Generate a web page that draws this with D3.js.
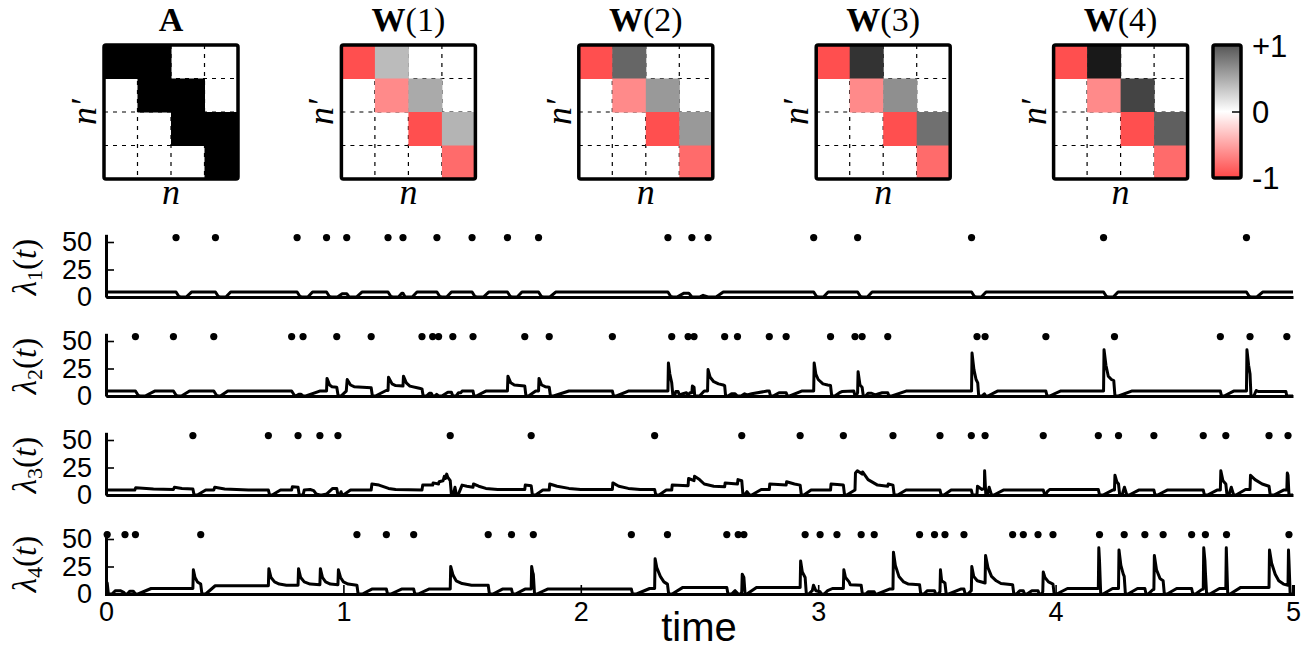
<!DOCTYPE html>
<html>
<head>
<meta charset="utf-8">
<script src="https://cdn.jsdelivr.net/npm/d3@7"></script>
<style>
body { margin: 0; background: #fff; }
.tick text { font-family: "Liberation Sans", Arial, sans-serif; font-size: 27px; }
.math { font-family: "Liberation Serif", "DejaVu Serif", serif; }
.sans { font-family: "Liberation Sans", Arial, sans-serif; }
</style>
</head>
<body>
<svg id="fig" width="1304" height="651"></svg>
<script>
// ---- data ----
const timeTicks = [0, 1, 2, 3, 4, 5];
const rateTicks = [0, 25, 50];
const cbarTicks = [[1, "+1"], [0, "0"], [-1, "-1"]];

const matA = [[1, 1, 0, 0], [0, 1, 1, 0], [0, 0, 1, 1], [0, 0, 0, 1]];
const matW1 = [[-0.95, 0.4, 0, 0], [0, -0.63, 0.5, 0], [0, 0, -0.95, 0.44], [0, 0, 0, -0.8]];
const matW2 = [[-0.95, 0.9, 0, 0], [0, -0.63, 0.6, 0], [0, 0, -0.95, 0.6], [0, 0, 0, -0.8]];
const matW3 = [[-0.95, 1.2, 0, 0], [0, -0.63, 0.66, 0], [0, 0, -0.95, 0.84], [0, 0, 0, -0.8]];
const matW4 = [[-0.95, 1.35, 0, 0], [0, -0.63, 1.1, 0], [0, 0, -0.95, 0.94], [0, 0, 0, -0.8]];

const spikes1 = [0.295, 0.461, 0.805, 0.929, 1.014, 1.188, 1.251, 1.394, 1.542, 1.691, 1.822,
  2.367, 2.468, 2.536, 2.981, 3.166, 3.646, 4.202, 4.804];
const spikes2 = [0.124, 0.284, 0.454, 0.782, 0.830, 0.972, 1.117, 1.331, 1.376, 1.401, 1.461,
  1.546, 1.764, 1.867, 2.133, 2.383, 2.452, 2.477, 2.606, 2.660, 2.794, 2.865, 3.052, 3.155,
  3.185, 3.293, 3.669, 3.703, 3.959, 4.248, 4.694, 4.819, 4.974];
const spikes3 = [0.366, 0.684, 0.809, 0.901, 0.977, 1.450, 1.791, 2.311, 2.678, 2.924, 3.106,
  3.315, 3.513, 3.645, 3.703, 3.948, 4.180, 4.265, 4.414, 4.622, 4.717, 4.899, 4.979];
const spikes4 = [0.005, 0.080, 0.124, 0.399, 1.057, 1.181, 1.296, 1.610, 1.708, 1.800, 2.213,
  2.365, 2.615, 2.663, 2.687, 2.945, 3.008, 3.079, 3.181, 3.236, 3.427, 3.490, 3.534, 3.614,
  3.819, 3.864, 3.926, 3.989, 4.185, 4.289, 4.376, 4.453, 4.573, 4.631, 4.720, 4.983];

const rate1 = [[0,4.5],[0.295,4.5],[0.307,0.5],[0.315,0],[0.338,0],[0.36,4.5],
  [0.461,4.5],[0.473,0.5],[0.481,0],[0.505,0],[0.525,4.5],
  [0.805,4.5],[0.817,0.5],[0.825,0],[0.85,0],[0.87,4.5],
  [0.929,4.5],[0.941,0.5],[0.949,0],[0.975,0],[0.995,3],[1.014,3],[1.024,0],[1.055,0],[1.078,4.5],
  [1.188,4.5],[1.2,0.5],[1.208,0],[1.232,0],[1.246,3.5],[1.251,3.5],[1.26,0],[1.29,0],[1.31,4.5],
  [1.394,4.5],[1.406,0.5],[1.414,0],[1.435,0],[1.455,4.5],
  [1.542,4.5],[1.554,0.5],[1.562,0],[1.59,0],[1.612,4.5],
  [1.691,4.5],[1.703,0.5],[1.711,0],[1.732,0],[1.752,4.5],
  [1.822,4.5],[1.834,0.5],[1.842,0],[1.87,0],[1.894,4.5],
  [2.367,4.5],[2.379,0.5],[2.387,0],[2.405,0],[2.435,3.5],[2.455,3.5],[2.468,0],[2.5,0],
  [2.515,1.5],[2.536,0],[2.57,0],[2.6,4.5],
  [2.981,4.5],[2.993,0.5],[3.001,0],[3.022,0],[3.042,4.5],
  [3.166,4.5],[3.178,0.5],[3.186,0],[3.207,0],[3.227,4.5],
  [3.646,4.5],[3.658,0.5],[3.666,0],[3.687,0],[3.707,4.5],
  [4.202,4.5],[4.214,0.5],[4.222,0],[4.243,0],[4.263,4.5],
  [4.804,4.5],[4.816,0.5],[4.824,0],[4.848,0],[4.872,4.5],[5,4.5]];

const rate2 = [[0,4.5],[0.124,4.5],[0.136,0.5],[0.144,0],[0.165,0],[0.205,4.5],
  [0.284,4.5],[0.296,0.5],[0.304,0],[0.318,0],[0.352,4.5],
  [0.454,4.5],[0.466,0.5],[0.474,0],[0.482,0],[0.513,4.5],
  [0.782,4.5],[0.794,0.5],[0.8,0],[0.812,1.5],[0.822,1.5],[0.83,0],[0.842,0],[0.9,4.5],
  [0.929,4.5],[0.931,16],[0.942,10],[0.952,8.5],[0.972,8],[0.978,0],[0.99,0],[1.012,4.5],
  [1.016,15],[1.03,10],[1.045,8.5],[1.117,7.5],[1.122,0],[1.135,0],[1.18,5],[1.188,5],
  [1.19,17],[1.205,11],[1.22,9.5],[1.251,9],[1.253,18],[1.265,12],[1.28,9],[1.32,7],
  [1.331,6.5],[1.336,0],[1.35,0],[1.362,2.5],[1.37,2.5],[1.376,0],[1.385,0],[1.393,1.5],
  [1.401,0],[1.415,0],[1.44,3.5],[1.455,3.5],[1.461,0],[1.475,0],[1.485,3],[1.495,3],
  [1.5,4.5],[1.546,4.5],[1.55,0],[1.56,0],[1.6,4.5],[1.691,4.5],[1.693,18],[1.705,12],
  [1.72,10],[1.764,9],[1.769,0],[1.78,0],[1.81,4.5],[1.822,4.5],[1.824,16],[1.835,10],
  [1.85,8.5],[1.867,8],[1.872,0],[1.885,0],[1.95,4.5],
  [2.133,4.5],[2.138,0],[2.15,0],[2.2,4.5],
  [2.367,4.5],[2.369,30],[2.375,20],[2.383,12],[2.388,0],[2.395,0],[2.4,4],[2.41,4],
  [2.415,1],[2.43,2],[2.445,3],[2.452,0.5],[2.46,3],[2.468,3],[2.47,9],[2.477,8],[2.48,0],
  [2.5,0],[2.52,4.5],[2.534,4.5],[2.536,24],[2.545,17],[2.56,13],[2.58,11],[2.6,10],
  [2.606,9.5],[2.61,0],[2.62,0],[2.635,2],[2.65,2],[2.66,0],[2.675,0],[2.69,2],[2.7,1],
  [2.72,2],[2.785,4.5],[2.794,4.5],[2.799,0],[2.81,0],[2.835,3],[2.865,3],[2.87,0],
  [2.88,0],[2.93,4.5],
  [2.981,4.5],[2.983,30],[2.99,20],[3,15],[3.02,11],[3.04,10],[3.052,9.5],[3.057,0],
  [3.07,0],[3.09,3],[3.1,4],[3.15,4.5],[3.155,0],[3.16,0],[3.166,3],[3.168,22],[3.176,10],
  [3.185,8],[3.19,0],[3.2,0],[3.21,2.5],[3.225,2.5],[3.24,1],[3.255,2],[3.27,3],[3.293,3],
  [3.298,0],[3.31,0],[3.37,4.5],
  [3.646,4.5],[3.648,39],[3.656,24],[3.665,15],[3.672,12],[3.676,0],[3.69,0],[3.7,2],
  [3.705,0],[3.715,0],[3.755,4.5],[3.959,4.5],[3.964,0],[3.975,0],[4.02,4.5],
  [4.202,4.5],[4.204,42],[4.212,28],[4.222,18],[4.235,15],[4.245,14],[4.25,0],[4.265,0],
  [4.32,4.5],[4.694,4.5],[4.699,0],[4.71,0],[4.75,4.5],[4.804,4.5],[4.806,42],[4.813,28],
  [4.819,20],[4.823,0],[4.835,0],[4.845,5],[4.855,4],[4.97,4],[4.974,0],[5,0]];

const rate3 = [[0,4.5],[0.121,4.5],[0.125,6.5],[0.2,5.5],[0.284,5],[0.288,7],[0.32,6],
  [0.366,5.5],[0.371,0],[0.385,0],[0.42,4.5],[0.454,4.5],[0.458,7],[0.5,5.5],[0.55,5],
  [0.6,4.5],[0.684,4.5],[0.689,0],[0.7,0],[0.735,4.5],[0.782,4.5],[0.785,7.5],[0.809,7],
  [0.814,0],[0.83,0],[0.835,4.5],[0.86,5],[0.875,4],[0.885,1],[0.901,0],[0.91,0],[0.93,1],
  [0.955,6],[0.972,6],[0.977,0],[0.985,0],[0.99,3],[0.995,0],[1,0],[1.03,4.5],[1.117,4.5],
  [1.12,10],[1.15,9],[1.19,6],[1.22,5],[1.331,4.5],[1.334,9],[1.376,9],[1.378,11],[1.401,10],
  [1.403,12],[1.42,13],[1.425,17],[1.43,15],[1.435,19],[1.44,16],[1.45,13],[1.455,0],
  [1.462,0],[1.47,7],[1.475,1],[1.485,1],[1.5,9],[1.52,8],[1.546,7],[1.548,10],[1.57,8],
  [1.6,6],[1.65,5],[1.764,5],[1.766,9],[1.791,8.5],[1.796,0],[1.81,0],[1.84,4.5],
  [1.867,4.5],[1.869,10],[1.9,8],[1.95,6],[2,5],[2.133,5],[2.135,11],[2.16,8],[2.2,6],
  [2.25,5],[2.311,5],[2.316,0],[2.33,0],[2.36,4.5],[2.383,4.5],[2.385,9],[2.452,8.5],
  [2.454,15],[2.477,13],[2.479,17],[2.5,14],[2.52,10],[2.56,8],[2.606,7.5],[2.608,11],
  [2.66,10],[2.662,14],[2.678,13],[2.683,0],[2.69,0],[2.7,3],[2.71,0],[2.72,0],[2.76,5],
  [2.794,5],[2.796,10],[2.865,9],[2.867,12],[2.9,10],[2.924,9],[2.929,0],[2.94,0],
  [2.97,4.5],[3.052,4.5],[3.054,10],[3.106,9],[3.111,0],[3.12,0],[3.155,4.5],[3.157,20],
  [3.165,22],[3.185,19],[3.187,21],[3.21,14],[3.25,9],[3.293,8],[3.295,10],[3.315,9],
  [3.32,0],[3.335,0],[3.37,4.5],[3.513,4.5],[3.518,0],[3.53,0],[3.56,4.5],[3.645,4.5],
  [3.65,0],[3.665,0],[3.669,1],[3.671,8],[3.69,5],[3.7,6],[3.701,22],[3.706,0],[3.712,0],
  [3.72,7],[3.73,0],[3.74,0],[3.78,4.5],[3.948,4.5],[3.953,1],[3.96,1],[3.965,3],[3.975,5],
  [4.18,5],[4.185,0],[4.2,0],[4.24,4.5],[4.248,4.5],[4.25,18],[4.258,12],[4.265,10],
  [4.27,0],[4.28,0],[4.29,7],[4.3,0],[4.31,0],[4.35,4.5],[4.414,4.5],[4.419,0],[4.43,0],
  [4.47,4.5],[4.622,4.5],[4.627,0],[4.64,0],[4.68,4.5],[4.694,4.5],[4.696,22],[4.705,13],
  [4.717,10],[4.722,0],[4.73,0],[4.74,7],[4.75,0],[4.76,0],[4.8,5],[4.819,5],[4.821,18],
  [4.84,14],[4.87,10],[4.899,8],[4.904,0],[4.92,0],[4.96,4.5],[4.974,4.5],[4.976,20],
  [4.979,18],[4.983,0],[5,0]];

const rate4 = [[0,10],[0.005,10],[0.01,0],[0.025,0],[0.04,3],[0.06,3],[0.075,1.5],[0.08,0],
  [0.09,0],[0.1,2.5],[0.115,2.5],[0.124,0],[0.135,0],[0.19,5],[0.366,5],[0.368,22],
  [0.375,15],[0.385,11],[0.399,9],[0.404,0],[0.42,0],[0.46,7.5],[0.684,7.5],[0.686,23],
  [0.695,15],[0.71,11],[0.73,9],[0.76,8],[0.809,8],[0.811,23],[0.82,15],[0.835,11],
  [0.86,9],[0.901,8.5],[0.903,23],[0.912,15],[0.925,11],[0.945,9],[0.977,8.5],[0.979,22],
  [0.988,15],[1,11],[1.02,9],[1.057,8],[1.062,0],[1.08,0],[1.12,4.5],[1.181,4.5],
  [1.186,0],[1.2,0],[1.245,4.5],[1.296,4.5],[1.301,0],[1.315,0],[1.36,4.5],[1.45,4.5],
  [1.452,25],[1.462,17],[1.475,12],[1.5,9.5],[1.54,8],[1.61,8],[1.615,0],[1.63,0],
  [1.67,4.5],[1.708,4.5],[1.713,0],[1.725,0],[1.765,4.5],[1.791,4.5],[1.793,25],[1.797,20],
  [1.8,18],[1.805,0],[1.815,0],[1.86,4.5],[2.213,4.5],[2.218,0],[2.235,0],[2.29,5],
  [2.311,5],[2.313,32],[2.32,24],[2.335,16],[2.35,11],[2.365,9],[2.37,0],[2.385,0],
  [2.43,6],[2.615,6],[2.62,0],[2.635,0],[2.65,3],[2.663,0],[2.675,0],[2.678,2],[2.68,18],
  [2.687,15],[2.692,0],[2.7,0],[2.74,6],[2.924,6],[2.926,30],[2.933,20],[2.945,15],
  [2.95,0],[2.96,0],[2.975,3],[2.98,8],[2.99,3],[3.008,2],[3.013,0],[3.025,0],[3.04,3],
  [3.06,5],[3.106,5],[3.108,22],[3.115,15],[3.13,11],[3.135,8.5],[3.181,8],[3.186,0],
  [3.2,0],[3.21,2],[3.236,2],[3.24,0],[3.25,0],[3.3,4.5],[3.315,4.5],[3.317,38],[3.325,26],
  [3.34,16],[3.36,11],[3.38,9],[3.427,8.5],[3.432,0],[3.445,0],[3.46,3],[3.49,3],[3.495,0],
  [3.505,0],[3.513,2],[3.515,22],[3.52,12],[3.534,10],[3.539,0],[3.55,0],[3.6,4.5],
  [3.614,4.5],[3.619,0],[3.63,0],[3.645,3],[3.647,25],[3.655,16],[3.67,12],[3.703,10],
  [3.705,35],[3.715,24],[3.73,16],[3.75,12],[3.77,9.5],[3.819,8.5],[3.824,0],[3.835,0],
  [3.85,3],[3.864,3],[3.869,0],[3.88,0],[3.9,3],[3.926,3],[3.931,0],[3.94,0],[3.946,2],
  [3.948,20],[3.955,15],[3.97,11],[3.989,9],[3.994,0],[4.005,0],[4.05,5],[4.18,5],
  [4.182,42],[4.185,30],[4.19,0],[4.2,0],[4.24,5],[4.265,5],[4.267,40],[4.275,26],
  [4.285,18],[4.289,16],[4.294,0],[4.305,0],[4.345,5],[4.376,5],[4.381,0],[4.39,0],
  [4.41,4],[4.414,4],[4.416,35],[4.425,22],[4.44,14],[4.453,12],[4.458,0],[4.47,0],
  [4.51,5],[4.573,5],[4.578,0],[4.59,0],[4.615,4],[4.622,4.5],[4.624,42],[4.629,30],
  [4.631,20],[4.636,0],[4.65,0],[4.69,5],[4.717,5],[4.719,42],[4.72,35],[4.725,0],
  [4.735,0],[4.78,6],[4.899,6],[4.901,40],[4.91,28],[4.925,18],[4.94,12],[4.96,9],
  [4.979,8],[4.981,40],[4.983,30],[4.988,0],[5,0]];

const matrices = [matA, matW1, matW2, matW3, matW4];
const matLabels = ["A", "1", "2", "3", "4"];
const panels = [[rate1, spikes1], [rate2, spikes2], [rate3, spikes3], [rate4, spikes4]];
const spikeLevel = 54;

// ---- drawing ----
const svg = d3.select("#fig");
const x = d3.scaleLinear().domain([0, 5]).range([106, 1293]);
const color = d3.scaleLinear()
  .domain([-1, 0, 1, 1.5])
  .range(["#ff4646", "#ffffff", "#555555", "#000000"])
  .clamp(true);

const msize = 134, mtop = 45, cell = msize / 4;

matrices.forEach(function(m, k) {
  const left = x(k) - 2;
  const g = svg.append("g").attr("transform", `translate(${left},${mtop})`);
  g.append("rect").attr("width", msize).attr("height", msize).attr("fill", "#fff");
  [1, 2, 3].forEach(function(i) {
    g.append("line").attr("x1", i * cell).attr("x2", i * cell).attr("y1", 0).attr("y2", msize)
      .attr("stroke", "#000").attr("stroke-width", 1.2).attr("stroke-dasharray", "4,5");
    g.append("line").attr("y1", i * cell).attr("y2", i * cell).attr("x1", 0).attr("x2", msize)
      .attr("stroke", "#000").attr("stroke-width", 1.2).attr("stroke-dasharray", "4,5");
  });
  const cells = [];
  m.forEach((row, r) => row.forEach((v, c) => { if (v !== 0) cells.push({r, c, v}); }));
  g.selectAll("rect.cell").data(cells).enter().append("rect")
    .attr("class", "cell")
    .attr("x", d => d.c * cell).attr("y", d => d.r * cell)
    .attr("width", cell + 0.5).attr("height", cell + 0.5)
    .attr("fill", d => k === 0 ? "#000" : color(d.v));
  g.append("rect").attr("width", msize).attr("height", msize)
    .attr("fill", "none").attr("stroke", "#000").attr("stroke-width", 3.5).attr("rx", 2);

  const title = svg.append("text").attr("class", "math")
    .attr("x", left + msize / 2).attr("y", 31).attr("text-anchor", "middle")
    .attr("font-size", 34);
  if (k === 0) {
    title.append("tspan").attr("font-weight", "bold").text("A");
  } else {
    title.append("tspan").attr("font-weight", "bold").text("W");
    title.append("tspan").text("(" + matLabels[k] + ")");
  }
  svg.append("text").attr("class", "math").attr("font-style", "italic").attr("font-size", 36)
    .attr("x", left + msize / 2).attr("y", 204).attr("text-anchor", "middle").text("n");
  svg.append("text").attr("class", "math").attr("font-style", "italic").attr("font-size", 36)
    .attr("transform", `translate(${left - 8},${mtop + msize / 2}) rotate(-90)`)
    .attr("text-anchor", "middle").text("n\u2032");
});

// colorbar
const cbY = d3.scaleLinear().domain([-1, 1]).range([mtop + msize - 1, mtop + 1]);
const grad = svg.append("defs").append("linearGradient").attr("id", "cb")
  .attr("x1", 0).attr("y1", 1).attr("x2", 0).attr("y2", 0);
d3.range(-1, 1.001, 0.1).forEach(function(v) {
  grad.append("stop").attr("offset", (v + 1) / 2).attr("stop-color", color(v));
});
svg.append("rect").attr("x", 1213).attr("y", mtop).attr("width", 28).attr("height", msize - 1)
  .attr("fill", "url(#cb)").attr("stroke", "#000").attr("stroke-width", 3.5).attr("rx", 2);
svg.append("line").attr("x1", 1241).attr("x2", 1232).attr("y1", cbY(0)).attr("y2", cbY(0))
  .attr("stroke", "#000").attr("stroke-width", 1.5);
svg.selectAll("text.cbl").data(cbarTicks).enter().append("text")
  .attr("class", "sans").attr("font-size", 31)
  .attr("x", 1252).attr("y", d => cbY(d[0])).attr("dy", "0.36em").text(d => d[1]);

// rate panels
const line = d3.line();
panels.forEach(function(p, i) {
  const rate = p[0], spikes = p[1];
  const y0 = 297 + 99 * i;
  const y = d3.scaleLinear().domain([0, 57]).range([y0, y0 - 57 * 1.1]);
  const g = svg.append("g");

  const yAxis = g.append("g").attr("transform", `translate(${x(0)},0)`)
    .call(d3.axisLeft(y).tickValues(rateTicks).tickSize(-8).tickSizeOuter(0).tickPadding(14));
  yAxis.select(".domain").attr("stroke-width", 3);
  yAxis.selectAll(".tick line").attr("stroke-width", 1.6);

  const xa = d3.axisBottom(x).tickValues(timeTicks).tickSizeOuter(0).tickPadding(8)
    .tickFormat(d3.format("d"));
  if (i === 3) { xa.tickSize(-9); } else { xa.tickSize(0).tickFormat(""); }
  const xAxis = g.append("g").attr("transform", `translate(0,${y0})`).call(xa);
  xAxis.select(".domain").attr("stroke-width", 3);
  xAxis.selectAll(".tick line").attr("stroke-width", 1.6);

  g.append("path").datum(rate)
    .attr("d", line.x(d => x(d[0])).y(d => y(d[1])))
    .attr("fill", "none").attr("stroke", "#000").attr("stroke-width", 3)
    .attr("stroke-linejoin", "round");

  g.selectAll("circle").data(spikes).enter().append("circle")
    .attr("cx", d => x(d)).attr("cy", y(spikeLevel)).attr("r", 3.6).attr("fill", "#000");

  const lab = svg.append("text").attr("class", "math").attr("font-size", 33)
    .attr("transform", `translate(36,${y0 - 30}) rotate(-90)`).attr("text-anchor", "middle");
  lab.append("tspan").attr("font-style", "italic").text("\u03bb");
  lab.append("tspan").attr("font-size", 22).attr("dy", 6).text(String(i + 1));
  lab.append("tspan").attr("dy", -6).text("(");
  lab.append("tspan").attr("font-style", "italic").text("t");
  lab.append("tspan").text(")");
});

svg.append("text").attr("class", "sans").attr("font-size", 40)
  .attr("x", 699).attr("y", 641).attr("text-anchor", "middle").text("time");
</script>
</body>
</html>
